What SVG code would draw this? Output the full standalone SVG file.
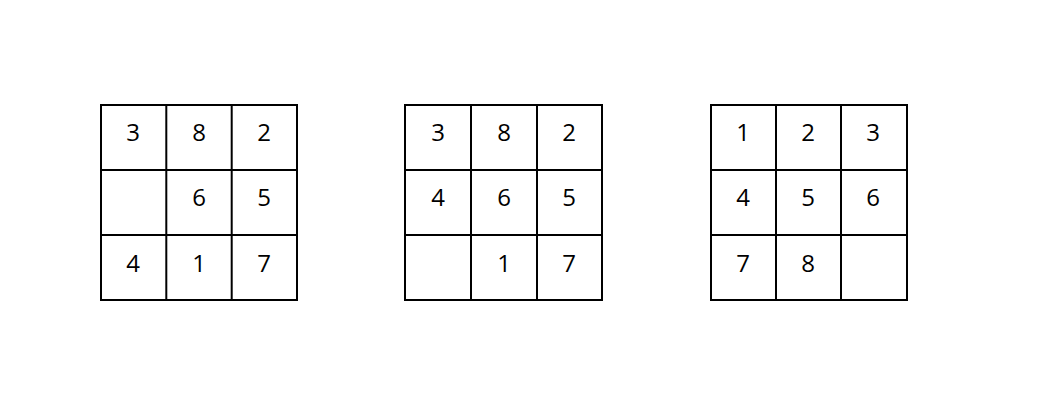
<svg xmlns="http://www.w3.org/2000/svg" width="1048" height="404" viewBox="0 0 1048 404">
<style>
.c{fill:none;stroke:#000;stroke-width:2}
text{font-family:"Open Sans","Liberation Sans",sans-serif;font-size:24px;text-anchor:middle;fill:#000}
</style>
<rect width="1048" height="404" fill="#fff"/>
<g id="grid1">
<path class="c" d="M101,105H297V300H101Z M166.3,105V300 M231.7,105V300 M101,170H297 M101,235H297"/>
<text x="133" y="140.5">3</text><text x="199" y="140.5">8</text><text x="264" y="140.5">2</text>
<text x="199" y="206">6</text><text x="264" y="206">5</text>
<text x="133" y="271.5">4</text><text x="199" y="271.5">1</text><text x="264" y="271.5">7</text>
</g>
<g id="grid2">
<path class="c" d="M405,105H602V300H405Z M471,105V300 M537,105V300 M405,170H602 M405,235H602"/>
<text x="438" y="140.5">3</text><text x="504" y="140.5">8</text><text x="569" y="140.5">2</text>
<text x="438" y="206">4</text><text x="504" y="206">6</text><text x="569" y="206">5</text>
<text x="504" y="271.5">1</text><text x="569" y="271.5">7</text>
</g>
<g id="grid3">
<path class="c" d="M711,105H907V300H711Z M776,105V300 M841,105V300 M711,170H907 M711,235H907"/>
<text x="743" y="140.5">1</text><text x="808" y="140.5">2</text><text x="873" y="140.5">3</text>
<text x="743" y="206">4</text><text x="808" y="206">5</text><text x="873" y="206">6</text>
<text x="743" y="271.5">7</text><text x="808" y="271.5">8</text>
</g>
<g id="connectors"/>
</svg>
